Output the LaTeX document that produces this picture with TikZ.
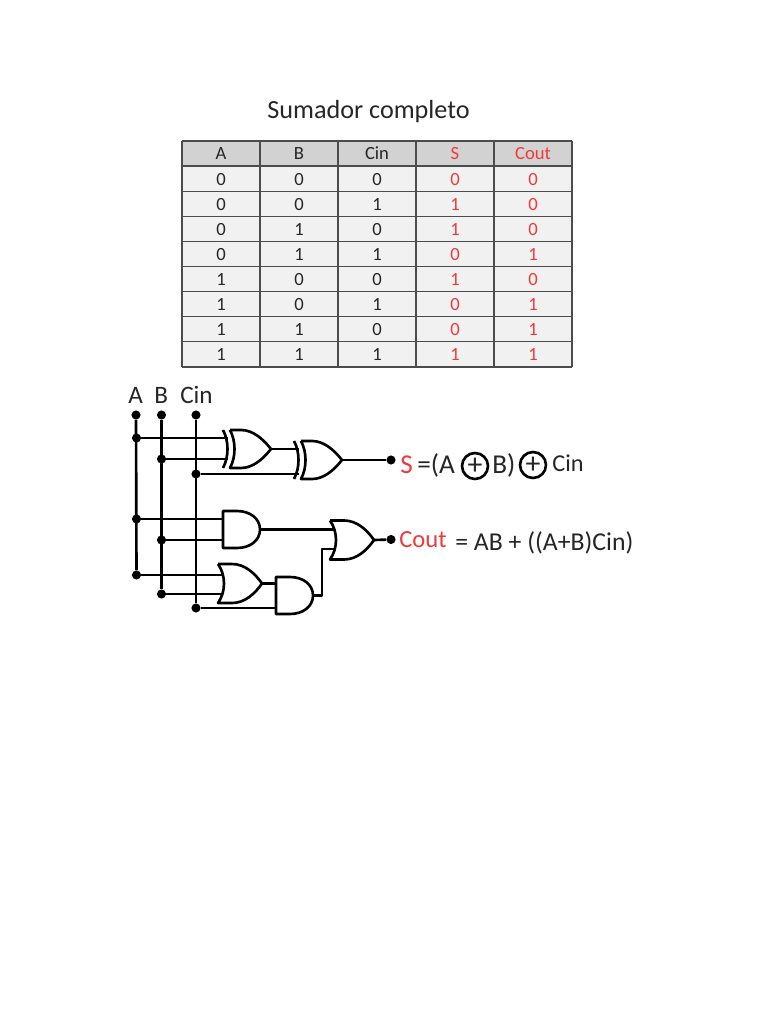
\documentclass[tikz,border=0pt]{standalone}
\usepackage{fontspec}
\setmainfont{Carlito}
\usepackage{xcolor}
\definecolor{rojo}{HTML}{F03A3A}
\definecolor{tinta}{HTML}{262626}
\definecolor{cabeza}{HTML}{D2D2D2}
\definecolor{fila}{HTML}{F1F1F1}
\newcommand{\tam}[1]{\fontsize{#1}{#1}\selectfont}
\tikzset{
    wire/.style={line width=1.5pt,line join=round},
    thinline/.style={line width=0.75pt,draw=black!70},
    dot/.style={circle,fill=black,inner sep=0pt,minimum size=5.2pt},
    txt/.style={anchor=base west,inner sep=0pt,text=tinta},
    celda/.style={anchor=center,inner sep=0pt,text=tinta,text height=6.8pt,text depth=0pt},
    oplus/.style={circle,draw=black,line width=1.5pt,inner sep=0pt,minimum size=0.52cm,font=\tam{17},text=tinta},
    andgate/.pic={
        \draw[wire] (0,-18.5) -- (14,-18.5) .. controls (27,-18.5) and (37,-11) .. (37,0)
            .. controls (37,11) and (27,18.5) .. (14,18.5) -- (0,18.5) -- cycle;
        \coordinate (-in) at (0,0);
        \coordinate (-out) at (37,0);
    },
    orgate/.pic={
        \draw[wire] (0,-19.5) -- (14,-19.5) .. controls (27,-19.5) and (37,-10) .. (44,0)
            .. controls (37,10) and (27,19.5) .. (14,19.5) -- (0,19.5)
            .. controls (8,8) and (8,-8) .. (0,-19.5);
        \coordinate (-in) at (5,0);
        \coordinate (-out) at (44,0);
    },
    xorgate/.pic={
        \draw[wire] (-1,-19) -- (10,-19) .. controls (22,-19) and (32,-10) .. (40,0)
            .. controls (32,10) and (22,19) .. (10,19) -- (-1,19)
            .. controls (5,8) and (5,-8) .. (-1,-19);
        \draw[wire] (-8,-19) .. controls (-2,-8) and (-2,8) .. (-8,19);
        \coordinate (-in) at (-3,0);
        \coordinate (-out) at (40,0);
    },
}
\begin{document}
\begin{tikzpicture}[x=0.02cm,y=-0.02cm]
    \useasboundingbox[fill=white] (0,0) rectangle (768,1024);
    \node[txt,font=\tam{14.9}] (titulo) at (267,118) {Sumador completo};
    % tabla
    \fill[fila] (182,141) rectangle (572,367);
    \fill[cabeza] (182,141) rectangle (572,166);
    \foreach \y in {141,166.1,...,368}{
        \draw[thinline] (182,\y) -- (572,\y);
    }
    \foreach \x in {182,260,338,416,494,572}{
        \draw[thinline] (\x,141) -- (\x,367);
    }
    \foreach \x/\t/\c in {221/A/tinta,299/B/tinta,377/Cin/tinta,455/S/rojo,533/Cout/rojo}{
        \node[celda,font=\tam{10.6},text=\c] (h\t) at (\x,154) {\t};
    }
    \foreach \a/\b/\c/\s/\k [count=\i] in {0/0/0/0/0,0/0/1/1/0,0/1/0/1/0,0/1/1/0/1,1/0/0/1/0,1/0/1/0/1,1/1/0/0/1,1/1/1/1/1}{
        \node[celda,font=\tam{10.6}] (a\i) at (221,154+25.1*\i) {\a};
        \node[celda,font=\tam{10.6}] (b\i) at (299,154+25.1*\i) {\b};
        \node[celda,font=\tam{10.6}] (c\i) at (377,154+25.1*\i) {\c};
        \node[celda,font=\tam{10.6},text=rojo] (s\i) at (455,154+25.1*\i) {\s};
        \node[celda,font=\tam{10.6},text=rojo] (k\i) at (533,154+25.1*\i) {\k};
    }
    % entradas
    \node[txt,font=\tam{14.3}] (lA) at (128,403) {A};
    \node[txt,font=\tam{14.3}] (lB) at (154,403) {B};
    \node[txt,font=\tam{14.3}] (lC) at (180,403) {Cin};
    \node[dot] (A0) at (136,415) {};
    \node[dot] (B0) at (161.5,415) {};
    \node[dot] (C0) at (196,415) {};
    % compuertas
    \pic (xor1) at (231,449) {xorgate};
    \pic (xor2) at (302,460) {xorgate};
    \pic (and1) at (223,529.5) {andgate};
    \pic (or1) at (218,583.5) {orgate};
    \pic (and2) at (276,595.5) {andgate};
    \pic (or2) at (330,540) {orgate};
    % nodos de union
    \node[dot] (A1) at (136.5,438) {};
    \node[dot] (A2) at (136.5,519) {};
    \node[dot] (A3) at (136.5,575) {};
    \node[dot] (B1) at (161.5,459) {};
    \node[dot] (B2) at (161.5,540) {};
    \node[dot] (B3) at (161.5,594) {};
    \node[dot] (C1) at (196,474) {};
    \node[dot] (C2) at (196,608) {};
    \node[dot] (S) at (391,460) {};
    \node[dot] (K) at (391,539.5) {};
    \draw[wire] (A0) -- (A3);
    \draw[wire] (B0) -- (B3);
    \draw[wire] (C0) -- (C2);
    \draw[wire] (A1) -- (A1 -| xor1-in);
    \draw[wire] (B1) -- (B1 -| xor1-in);
    \draw[wire] (C1) -- (C1 -| xor2-in);
    \draw[wire] (xor1-out) -- (xor1-out -| xor2-in);
    \draw[wire] (xor2-out) -- (S);
    \draw[wire] (A2) -- (A2 -| and1-in);
    \draw[wire] (B2) -- (B2 -| and1-in);
    \draw[wire] (and1-out) -- (and1-out -| or2-in);
    \draw[wire] (A3) -- (A3 -| or1-in);
    \draw[wire] (B3) -- (B3 -| or1-in);
    \draw[wire] (or1-out) -- (or1-out -| and2-in);
    \draw[wire] (C2) -- (C2 -| and2-in);
    \coordinate (codo) at (322,549);
    \draw[wire] (and2-out) -| (codo) -- (codo -| or2-in);
    \draw[wire] (or2-out) -- (K);
    % ecuaciones
    \node[txt,font=\tam{15.5},text=rojo] (eqS) at (400,473) {S};
    \node[txt,font=\tam{15.5}] (eqS1) at (417,473) {=(A};
    \node[oplus] (op1) at (475,466) {+};
    \node[txt,font=\tam{15.5}] (eqS2) at (492,473) {B)};
    \node[oplus] (op2) at (533,465) {+};
    \node[txt,font=\tam{13.8}] (eqS3) at (552,471) {Cin};
    \node[txt,font=\tam{14},text=rojo] (eqK) at (399,547) {Cout};
    \node[txt,font=\tam{14.65}] (eqK1) at (455,550) {= AB + ((A+B)Cin)};
\end{tikzpicture}
\end{document}
